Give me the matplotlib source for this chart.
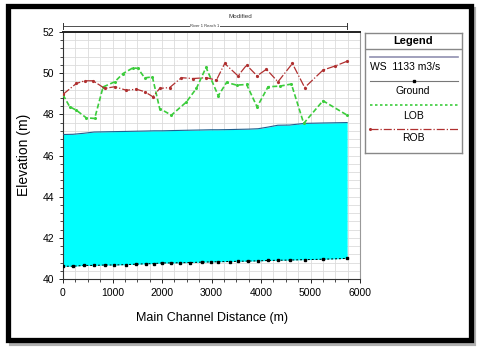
import numpy as np
import matplotlib.pyplot as plt
from matplotlib.patches import Rectangle
from matplotlib.lines import Line2D
from matplotlib.ticker import MultipleLocator
from matplotlib import font_manager

nombres = sorted({f.name for f in font_manager.fontManager.ttflist})
print(nombres)
estrecha = 'Liberation Sans Narrow' if 'Liberation Sans Narrow' in nombres else 'Liberation Sans'
plt.rcParams['font.family'] = [estrecha, 'DejaVu Sans']

# Estaciones (m) y perfiles
estaciones = [0, 200, 420, 630, 840, 1040, 1280, 1470, 1680, 1840, 2000, 2190, 2370,
              2570, 2800, 2990, 3130, 3370, 3540, 3740, 3940, 4140, 4340, 4580, 4880,
              5250, 5740]
terreno = [40.62, 40.62, 40.66, 40.66, 40.68, 40.68, 40.70, 40.72, 40.74, 40.75, 40.78,
           40.78, 40.79, 40.80, 40.82, 40.83, 40.84, 40.85, 40.86, 40.87, 40.88, 40.90,
           40.91, 40.92, 40.94, 40.96, 41.00]
ws = [47.02, 47.03, 47.08, 47.14, 47.15, 47.16, 47.17, 47.18, 47.19, 47.20, 47.20, 47.21,
      47.22, 47.23, 47.24, 47.25, 47.25, 47.26, 47.27, 47.28, 47.30, 47.38, 47.47, 47.48,
      47.56, 47.58, 47.60]

lob_x = [0, 135, 270, 470, 640, 810, 1045, 1212, 1414, 1515, 1650, 1806, 1953, 2190, 2493,
         2695, 2890, 3137, 3305, 3507, 3709, 3921, 4143, 4378, 4614, 4863, 5252, 5740]
lob_y = [48.95, 48.37, 48.20, 47.83, 47.80, 49.33, 49.58, 49.98, 50.26, 50.23, 49.77, 49.82,
         48.28, 47.96, 48.60, 49.26, 50.28, 48.90, 49.55, 49.42, 49.45, 48.36, 49.34, 49.37,
         49.47, 47.56, 48.66, 47.96]

rob_x = [0, 270, 440, 606, 842, 1045, 1281, 1483, 1650, 1818, 1953, 2155, 2392, 2626, 2897,
         3099, 3267, 3535, 3709, 3921, 4109, 4343, 4634, 4883, 5252, 5500, 5740]
rob_y = [48.97, 49.50, 49.63, 49.63, 49.26, 49.34, 49.17, 49.22, 49.10, 48.85, 49.26, 49.30,
         49.78, 49.74, 49.78, 49.66, 50.47, 49.87, 50.39, 49.87, 50.19, 49.58, 50.47, 49.30,
         50.15, 50.35, 50.58]

W, H = 480, 349
fig = plt.figure(figsize=(W / 100, H / 100), dpi=100)

# Marco negro con sombra
fig.patches.append(Rectangle((11 / W, 1 - 344 / H), 463 / W, 335 / H, transform=fig.transFigure,
                             fill=False, edgecolor='#b0b0b0', lw=3, zorder=-3))
fig.patches.append(Rectangle((8 / W, 1 - 340 / H), 463 / W, 334 / H, transform=fig.transFigure,
                             facecolor='white', edgecolor='black', lw=3.8, zorder=-2))

# Grafico principal
ax = fig.add_axes([63 / W, 1 - 279 / H, 297 / W, 247 / H])
ax.fill_between(estaciones, terreno, ws, color='#00ffff', lw=0, zorder=2)
ax.plot(estaciones, ws, color='#1f5f8f', lw=0.8, zorder=3)
ax.plot(estaciones, terreno, color='black', lw=0.7, ls=(0, (2, 2)), marker='s', ms=1.8, zorder=4)
ax.plot(lob_x, lob_y, color='#3ccc3c', lw=1.2, ls=(0, (3, 1.5)), marker='o', ms=1.2, zorder=4)
ax.plot(rob_x, rob_y, color='#b03030', lw=0.9, ls='-.', marker='o', ms=1.3, zorder=4)

ax.set_xlim(0, 6000)
ax.set_ylim(40, 52)
ax.xaxis.set_major_locator(MultipleLocator(1000))
ax.xaxis.set_minor_locator(MultipleLocator(250))
ax.yaxis.set_major_locator(MultipleLocator(2))
ax.yaxis.set_minor_locator(MultipleLocator(0.4))
ax.grid(which='both', color='#dcdcdc', lw=0.6, zorder=0)
ax.set_axisbelow(True)
ax.tick_params(which='major', labelsize=7.5, length=3, width=0.6)
ax.tick_params(which='minor', length=2, width=0.5)
for s in ['left', 'bottom']:
    ax.spines[s].set_color('#333333')
    ax.spines[s].set_linewidth(0.8)
ax.spines['right'].set_color('#999999')
ax.spines['top'].set_color('#222222')
ax.spines['top'].set_linewidth(1.4)

fig.text(24 / W, 1 - 155 / H, 'Elevation (m)', rotation=90, ha='center', va='center',
         fontsize=10, family=['Liberation Sans', 'DejaVu Sans'])
fig.text(212 / W, 1 - 318 / H, 'Main Channel Distance (m)', ha='center', va='center',
         fontsize=9)

# Titulo y tramo
fig.text(240 / W, 1 - 16 / H, 'Modified', ha='center', va='center', fontsize=4.5, color='#333333')
fig.add_artist(Line2D([63 / W, 347 / W], [1 - 26 / H, 1 - 26 / H], color='#333333', lw=0.6))
for xp in [63, 347]:
    fig.add_artist(Line2D([xp / W, xp / W], [1 - 23 / H, 1 - 29 / H], color='#333333', lw=0.7))
fig.text(205 / W, 1 - 26 / H, 'River 1 Reach 1', ha='center', va='center', fontsize=3,
         color='#333333', bbox=dict(facecolor='white', edgecolor='none', pad=0.5))

# Leyenda
lg = fig.add_axes([365 / W, 1 - 153 / H, 97 / W, 120 / H])
lg.set_xlim(365, 462)
lg.set_ylim(153, 33)
lg.set_xticks([])
lg.set_yticks([])
for s in lg.spines.values():
    s.set_color('#888888')
    s.set_linewidth(1)
lg.plot([365, 462], [49.3, 49.3], color='#888888', lw=1)
lg.text(413, 41, 'Legend', ha='center', va='center', fontsize=8, fontweight='bold')
lg.plot([370, 458], [56.7, 56.7], color='#9090b0', lw=1.2)
lg.text(370, 66.7, 'WS  1133 m3/s', ha='left', va='center', fontsize=7.5)
lg.plot([370, 458], [81, 81], color='#777777', lw=0.8)
lg.plot([413.5], [81], 's', color='black', ms=1.8)
lg.text(413, 90.7, 'Ground', ha='center', va='center', fontsize=7.5)
lg.plot([370, 458], [105.3, 105.3], color='#3ccc3c', lw=1.2, ls=(0, (1.5, 1.5)))
lg.text(413, 116, 'LOB', ha='center', va='center', fontsize=7.5)
lg.plot([370, 458], [129.3, 129.3], color='#b03030', lw=0.9, ls='-.', marker='o', ms=1.2,
        markevery=3)
lg.text(413, 138.3, 'ROB', ha='center', va='center', fontsize=7.5)

fig.savefig('out.png', dpi=100)
